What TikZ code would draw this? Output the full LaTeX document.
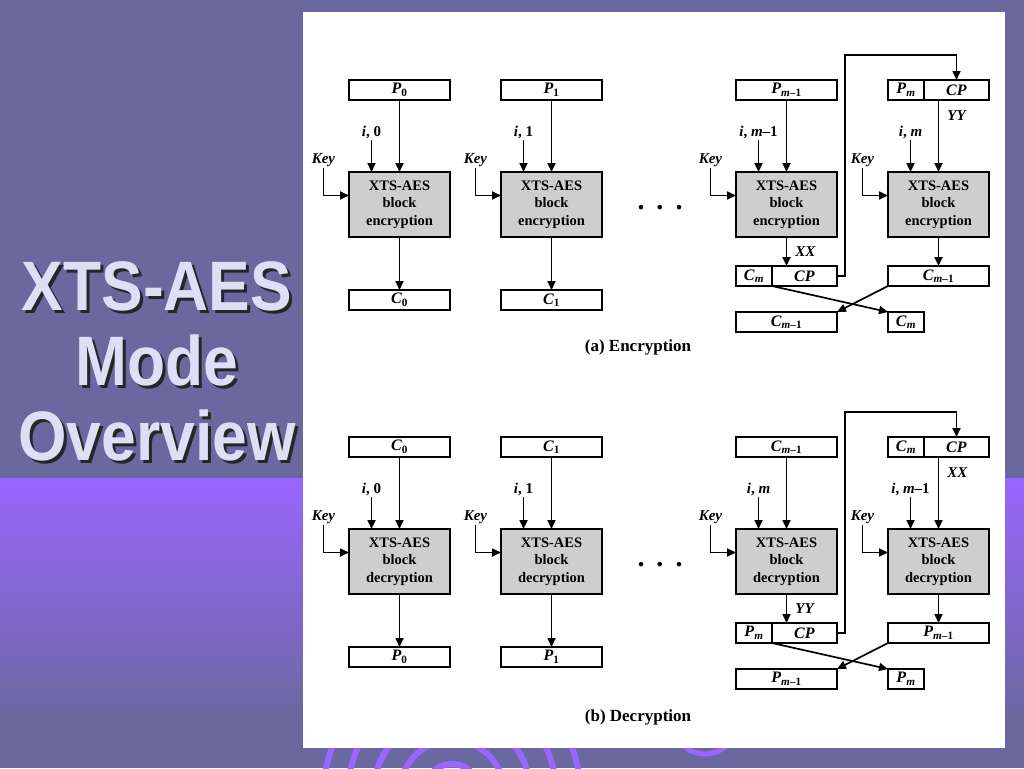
\documentclass[tikz,border=0pt]{standalone}
\usepackage{fontspec}
\setmainfont{Liberation Serif}
\newfontfamily\titlefont[FakeStretch=0.89]{Liberation Sans}
\usetikzlibrary{arrows.meta, positioning, calc}
\definecolor{slidebg}{RGB}{106, 104, 158}
\definecolor{slidehi}{RGB}{153, 102, 255}
\definecolor{titlefg}{RGB}{222, 222, 247}
\definecolor{boxgray}{RGB}{206, 206, 206}
\newcommand{\sy}[2]{\textit{#1}\textsubscript{#2}}
\newcommand{\shadowed}[1]{\leavevmode\rlap{\kern3pt\raisebox{-3pt}{\textcolor{black!85}{#1}}}#1}
\tikzset{
    blk/.style = {draw, line width=2.2pt, minimum width=101pt, minimum height=20pt, inner sep=0pt, outer sep=0pt, font=\fontsize{16}{16}\selectfont\bfseries},
    xts/.style = {blk, fill=boxgray, minimum height=65pt, align=center, font=\fontsize{14.5}{17.5}\selectfont\bfseries},
    lbl/.style = {font=\fontsize{15}{15}\selectfont\bfseries, inner sep=1pt},
    wire/.style = {line width=1.7pt, -{Triangle[length=9pt, width=8pt]}},
    capt/.style = {font=\fontsize{17}{17}\selectfont\bfseries},
    dotrow/.style = {font=\fontsize{28}{28}\selectfont\bfseries, inner sep=0pt},
    ttl/.style = {font=\titlefont\fontsize{70}{75}\selectfont\bfseries, align=center, inner sep=0pt}
}

\begin{document}
\begin{tikzpicture}[x=1pt, y=-1pt]
  % slide
  \fill[slidebg] (0,0) rectangle (1024,768);
  \shade[top color=slidehi, bottom color=slidebg] (0,478) rectangle (1024,722);
  \begin{scope}
    \clip (303,748) rectangle (1024,768);
    \foreach \r in {28,52,78,104,128}
      \draw[slidehi, line width=6pt] (452,792) circle (\r pt);
    \draw[slidehi, line width=5pt] (705,722) circle (32pt);
  \end{scope}
  \fill[white] (303,12) rectangle (1005,748);

  \node[ttl, text=titlefg] (title) at (157,362.5) {\shadowed{XTS-AES}\\\shadowed{Mode}\\\shadowed{Overview}};

  % (a) encryption
  \begin{scope}
    \node[blk] (eP0) at (399.5,90) {\sy{P}{0}};
    \node[xts, below=72pt of eP0] (eE0) {XTS-AES\\block\\encryption};
    \node[blk, below=53pt of eE0] (eC0) {\sy{C}{0}};
    \node[blk] (eP1) at (551.5,90) {\sy{P}{1}};
    \node[xts, below=72pt of eP1] (eE1) {XTS-AES\\block\\encryption};
    \node[blk, below=53pt of eE1] (eC1) {\sy{C}{1}};
    \node[blk] (eEm1top) at (786.5,90) {\sy{P}{\textit{m}–1}};
    \node[xts, below=72pt of eEm1top] (eEm1) {XTS-AES\\block\\encryption};
    \node[blk, minimum width=36pt] (eCm) at (754,276) {\sy{C}{\textit{m}}};
    \node[blk, minimum width=65pt, right=0pt of eCm] (eCPa) {\textit{CP}};
    \node[blk, minimum width=36pt] (ePm) at (906,90) {\sy{P}{\textit{m}}};
    \node[blk, minimum width=65pt, right=0pt of ePm] (eCPb) {\textit{CP}};
    \node[xts] (eEm) at (938.5,204.5) {XTS-AES\\block\\encryption};
    \node[blk, below=29pt of eEm] (eCm1) {\sy{C}{\textit{m}–1}};
    \node[blk] (eCm1o) at (786.5,322) {\sy{C}{\textit{m}–1}};
    \node[blk, minimum width=36pt] (eCmo) at (906,322) {\sy{C}{\textit{m}}};

    \foreach \b/\t in {E0/0, E1/1, Em1/\textit{m}–1, Em/\textit{m}} {
      \node[lbl] (ei\b) at ($(e\b.north west)+(22.5,-40)$) {\textit{i}, \t};
      \draw[wire] (ei\b.south) -- (ei\b.south |- e\b.north);
      \node[lbl] (ek\b) at ($(e\b.north west)+(-25.5,-12)$) {\textit{Key}};
      \draw[wire] (ek\b.south) |- ($(e\b.west)+(0,-9)$);
    }

    \draw[wire] (eP0) -- (eE0);
    \draw[wire] (eE0) -- (eC0);
    \draw[wire] (eP1) -- (eE1);
    \draw[wire] (eE1) -- (eC1);
    \draw[wire] (eEm1top) -- (eEm1);
    \draw[wire] (eEm1.south) -- node[lbl, right=7pt] (eXX) {\textit{XX}} (eEm1.south |- eCPa.north);
    \draw[wire] (eEm.north |- eCPb.south) -- node[lbl, right=7pt, pos=0.21] (eYY) {\textit{YY}} (eEm.north);
    \draw[wire] (eEm) -- (eCm1);
    \draw[wire] (eCPa.east) -- ++(8,0) |- ($(eCPb.north)+(0,-25)$) -- (eCPb.north);
    \draw[wire] (eCm.south east) -- (eCmo.north west);
    \draw[wire] (eCm1.south west) -- (eCm1o.north east);
    \node[dotrow] (edots) at (660,208) {.\hspace{12pt}.\hspace{12pt}.};
  \end{scope}

  % (b) decryption
  \begin{scope}[shift={(0,357)}]
    \node[blk] (dC0) at (399.5,90) {\sy{C}{0}};
    \node[xts, below=72pt of dC0] (dE0) {XTS-AES\\block\\decryption};
    \node[blk, below=53pt of dE0] (dP0) {\sy{P}{0}};
    \node[blk] (dC1) at (551.5,90) {\sy{C}{1}};
    \node[xts, below=72pt of dC1] (dE1) {XTS-AES\\block\\decryption};
    \node[blk, below=53pt of dE1] (dP1) {\sy{P}{1}};
    \node[blk] (dEm1top) at (786.5,90) {\sy{C}{\textit{m}–1}};
    \node[xts, below=72pt of dEm1top] (dEm1) {XTS-AES\\block\\decryption};
    \node[blk, minimum width=36pt] (dPm) at (754,276) {\sy{P}{\textit{m}}};
    \node[blk, minimum width=65pt, right=0pt of dPm] (dCPa) {\textit{CP}};
    \node[blk, minimum width=36pt] (dCm) at (906,90) {\sy{C}{\textit{m}}};
    \node[blk, minimum width=65pt, right=0pt of dCm] (dCPb) {\textit{CP}};
    \node[xts] (dEm) at (938.5,204.5) {XTS-AES\\block\\decryption};
    \node[blk, below=29pt of dEm] (dPm1) {\sy{P}{\textit{m}–1}};
    \node[blk] (dPm1o) at (786.5,322) {\sy{P}{\textit{m}–1}};
    \node[blk, minimum width=36pt] (dPmo) at (906,322) {\sy{P}{\textit{m}}};

    \foreach \b/\t in {E0/0, E1/1, Em1/\textit{m}, Em/\textit{m}–1} {
      \node[lbl] (di\b) at ($(d\b.north west)+(22.5,-40)$) {\textit{i}, \t};
      \draw[wire] (di\b.south) -- (di\b.south |- d\b.north);
      \node[lbl] (dk\b) at ($(d\b.north west)+(-25.5,-12)$) {\textit{Key}};
      \draw[wire] (dk\b.south) |- ($(d\b.west)+(0,-9)$);
    }

    \draw[wire] (dC0) -- (dE0);
    \draw[wire] (dE0) -- (dP0);
    \draw[wire] (dC1) -- (dE1);
    \draw[wire] (dE1) -- (dP1);
    \draw[wire] (dEm1top) -- (dEm1);
    \draw[wire] (dEm1.south) -- node[lbl, right=7pt] (dYY) {\textit{YY}} (dEm1.south |- dCPa.north);
    \draw[wire] (dEm.north |- dCPb.south) -- node[lbl, right=7pt, pos=0.21] (dXX) {\textit{XX}} (dEm.north);
    \draw[wire] (dEm) -- (dPm1);
    \draw[wire] (dCPa.east) -- ++(8,0) |- ($(dCPb.north)+(0,-25)$) -- (dCPb.north);
    \draw[wire] (dPm.south east) -- (dPmo.north west);
    \draw[wire] (dPm1.south west) -- (dPm1o.north east);
    \node[dotrow] (ddots) at (660,208) {.\hspace{12pt}.\hspace{12pt}.};
  \end{scope}

  \node[capt] (ecap) at (638,347) {(a) Encryption};
  \node[capt] (dcap) at (638,717) {(b) Decryption};
\end{tikzpicture}
\end{document}
